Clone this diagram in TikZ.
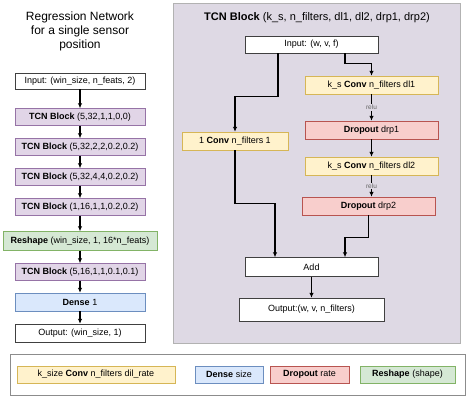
\documentclass[tikz,border=0pt]{standalone}
\usepackage{fontspec}
\setmainfont{Liberation Sans}
\usetikzlibrary{arrows.meta,shadows}
\definecolor{tcnfill}{HTML}{E1D5E7}
\definecolor{tcnline}{HTML}{9673A6}
\definecolor{convfill}{HTML}{FFF2CC}
\definecolor{convline}{HTML}{D6B656}
\definecolor{densefill}{HTML}{DAE8FC}
\definecolor{denseline}{HTML}{6C8EBF}
\definecolor{dropfill}{HTML}{F8CECC}
\definecolor{dropline}{HTML}{B85450}
\definecolor{reshfill}{HTML}{D5E8D4}
\definecolor{reshline}{HTML}{82B366}
\definecolor{panelfill}{HTML}{DED9E4}
\begin{document}
\begin{tikzpicture}[x=1pt,y=-1pt,
    box/.style={draw, minimum height=17pt, inner sep=0pt, font=\fontsize{9}{10}\selectfont,
      drop shadow={shadow xshift=1pt, shadow yshift=-1pt, opacity=.3, fill=black}},
    plain/.style={box, fill=white, draw=black!75},
    tcn/.style={box, fill=tcnfill, draw=tcnline},
    conv/.style={box, fill=convfill, draw=convline},
    dense/.style={box, fill=densefill, draw=denseline},
    drop/.style={box, fill=dropfill, draw=dropline},
    resh/.style={box, fill=reshfill, draw=reshline},
    relu/.style={fill=panelfill, inner sep=1pt, text=black!60, font=\fontsize{6.5}{7}\selectfont},
    arr/.style={-{Latex[length=5pt,width=4.5pt]}, line width=1.1pt}]
\useasboundingbox (0,0) rectangle (474,403);

% regression network
\node[align=center, font=\fontsize{12}{14}\selectfont] (title) at (80,31) {Regression Network\\for a single sensor\\position};
\node[plain, minimum width=130pt, minimum height=16pt] (in) at (80,81) {Input: (win\_size, n\_feats, 2)};
\node[tcn, minimum width=130pt] (t1) at (80,117) {\textbf{TCN Block} (5,32,1,1,0,0)};
\node[tcn, minimum width=130pt] (t2) at (80,147) {\textbf{TCN Block} (5,32,2,2,0.2,0.2)};
\node[tcn, minimum width=130pt] (t3) at (80,177) {\textbf{TCN Block} (5,32,4,4,0.2,0.2)};
\node[tcn, minimum width=130pt] (t4) at (80,207) {\textbf{TCN Block} (1,16,1,1,0.2,0.2)};
\node[resh, minimum width=154pt, minimum height=19pt] (rs) at (80,241) {\textbf{Reshape} (win\_size, 1, 16*n\_feats)};
\node[tcn, minimum width=130pt] (t5) at (80,272) {\textbf{TCN Block} (5,16,1,1,0.1,0.1)};
\node[dense, minimum width=130pt, minimum height=18pt] (dn) at (80,302) {\textbf{Dense} 1};
\node[plain, minimum width=130pt, minimum height=18pt] (out) at (80,333) {Output: (win\_size, 1)};
\foreach \a/\b in {in/t1, t1/t2, t2/t3, t3/t4, t4/rs, rs/t5, t5/dn, dn/out}
  \draw[arr] (\a) -- (\b);

% tcn block
\draw[draw=black!30, fill=panelfill] (173,3) rectangle (460,343);
\node[font=\fontsize{11}{13}\selectfont] (tcntitle) at (317,18) {\textbf{TCN Block} (k\_s, n\_filters, dl1, dl2, drp1, drp2)};
\node[plain, minimum width=133pt] (rin) at (311.5,44.5) {Input: (w, v, f)};
\node[conv, minimum width=133pt, minimum height=18pt] (c1) at (371.5,85) {k\_s \textbf{Conv} n\_filters dl1};
\node[drop, minimum width=133pt, minimum height=18pt] (d1) at (371.5,130) {\textbf{Dropout} drp1};
\node[conv, minimum width=133pt, minimum height=18pt] (c2) at (371.5,166) {k\_s \textbf{Conv} n\_filters dl2};
\node[drop, minimum width=133pt, minimum height=18pt] (d2) at (368.5,206) {\textbf{Dropout} drp2};
\node[conv, minimum width=106pt, minimum height=18pt] (c0) at (235,141) {1 \textbf{Conv} n\_filters 1};
\node[plain, minimum width=133pt, minimum height=19pt] (add) at (311.5,267) {Add};
\node[plain, minimum width=145pt, minimum height=23pt] (rout) at (311.5,309.5) {Output:(w, v, n\_filters)};
\draw[arr] ([xshift=-33.5pt]rin.south) -- ++(0,43) -| (c0.north);
\draw[arr] ([xshift=33.5pt]rin.south) -- ++(0,10) -| (c1.north);
\draw[arr] (c1) -- node[relu] {relu} (d1);
\draw[arr] (d1) -- (c2);
\draw[arr] (c2.south) -- node[relu] {relu} (c2.south |- d2.north);
\draw[arr] (d2.south) -- ++(0,22) -| ([xshift=33.5pt]add.north);
\draw[arr] (c0.south) -- ++(0,53) -| ([xshift=-36.5pt]add.north);
\draw[arr] (add) -- (rout);

% legend
\draw[draw=black!45, fill=white] (10,354) rectangle (465,395);
\node[conv, minimum width=158pt] (lconv) at (96,374.5) {k\_size \textbf{Conv} n\_filters dil\_rate};
\node[dense, minimum width=68pt] (ldense) at (229,374.5) {\textbf{Dense} size};
\node[drop, minimum width=79pt] (ldrop) at (309.5,374.5) {\textbf{Dropout} rate};
\node[resh, minimum width=95pt] (lresh) at (407.5,374.5) {\textbf{Reshape} (shape)};
\end{tikzpicture}
\end{document}
